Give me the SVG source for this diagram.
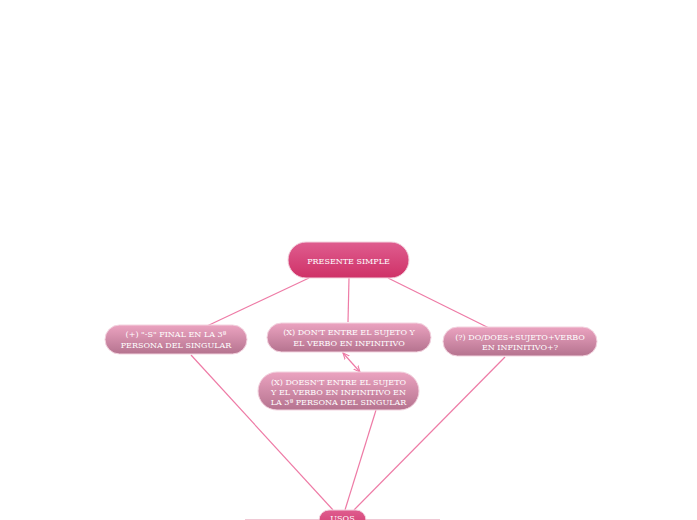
<svg xmlns="http://www.w3.org/2000/svg" width="697" height="520" viewBox="0 0 697 520">
<style>
.c{stroke:#ee7ba6;stroke-width:1.2;fill:none}
.t{font-family:"DejaVu Serif","Liberation Serif",serif;fill:#fff;font-size:8px;text-anchor:middle}
.n{fill:url(#g2);stroke:#f3d3df;stroke-width:1}
</style>
<defs>
<linearGradient id="g1" x1="0" y1="0" x2="0" y2="1"><stop offset="0" stop-color="#df5d8f"/><stop offset="1" stop-color="#cf3167"/></linearGradient>
<linearGradient id="g2" x1="0" y1="0" x2="0" y2="1"><stop offset="0" stop-color="#eba3c0"/><stop offset="1" stop-color="#b5738f"/></linearGradient>
<marker id="a" viewBox="0 0 10 10" refX="9" refY="5" markerWidth="6" markerHeight="6" orient="auto-start-reverse"><path d="M0,1 L9,5 L0,9" fill="none" stroke="#ee7ba6" stroke-width="1.5"/></marker>
</defs>
<g id="connectors">
<line class="c" x1="309" y1="278" x2="207" y2="326"/>
<line class="c" x1="349" y1="278" x2="348" y2="322"/>
<line class="c" x1="388" y1="278" x2="489" y2="328"/>
<line class="c" x1="191" y1="355" x2="333" y2="510"/>
<line class="c" x1="376" y1="410" x2="345" y2="510"/>
<line class="c" x1="505" y1="357" x2="354" y2="510"/>
<line class="c" x1="343" y1="353" x2="360" y2="372" marker-start="url(#a)" marker-end="url(#a)"/>
<line x1="245" y1="519.5" x2="440" y2="519.5" stroke="#f0c8d4" stroke-width="1"/>
</g>
<g id="n0"><rect x="288" y="242" width="121" height="36" rx="18" fill="url(#g1)" stroke="#f3d3df"/><text class="t" x="348.5" y="264" font-size="10">PRESENTE SIMPLE</text></g>
<g id="n1"><rect class="n" x="105" y="325" width="142" height="29" rx="14.5"/><text class="t" x="176" y="337">(+) "-S" FINAL EN LA 3ª</text><text class="t" x="176" y="348">PERSONA DEL SINGULAR</text></g>
<g id="n2"><rect class="n" x="267" y="323" width="164" height="29" rx="14.5"/><text class="t" x="349" y="335">(X) DON'T ENTRE EL SUJETO Y</text><text class="t" x="349" y="346">EL VERBO EN INFINITIVO</text></g>
<g id="n3"><rect class="n" x="443" y="327" width="154" height="29" rx="14.5"/><text class="t" x="520" y="340">(?) DO/DOES+SUJETO+VERBO</text><text class="t" x="520" y="350">EN INFINITIVO+?</text></g>
<g id="n4"><rect class="n" x="258" y="372" width="161" height="38" rx="19"/><text class="t" x="338.5" y="385">(X) DOESN'T ENTRE EL SUJETO</text><text class="t" x="338.5" y="395">Y EL VERBO EN INFINITIVO EN</text><text class="t" x="338.5" y="405">LA 3ª PERSONA DEL SINGULAR</text></g>
<g id="n5"><rect x="319" y="510" width="47" height="24" rx="10" fill="url(#g1)" stroke="#f3d3df"/><text class="t" x="342.5" y="521">USOS</text></g>
</svg>
